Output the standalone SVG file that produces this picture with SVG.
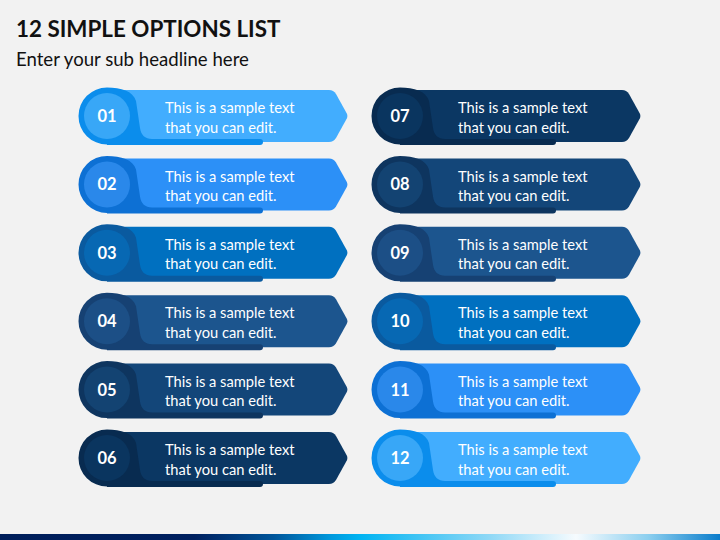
<svg xmlns="http://www.w3.org/2000/svg" xmlns:xlink="http://www.w3.org/1999/xlink" width="720" height="540" viewBox="0 0 720 540">
<style>
.title{font-family:Lato,"Liberation Sans",sans-serif;font-weight:bold;font-size:22.4px;fill:#111}
.sub{font-family:Lato,"Liberation Sans",sans-serif;font-size:18.6px;fill:#111}
.num{font-family:Lato,"Liberation Sans",sans-serif;font-weight:bold;font-size:16.5px;fill:#fff;text-anchor:middle}
.txt{font-family:Lato,"Liberation Sans",sans-serif;font-size:14.7px;fill:#fff}
.c1 .tab{fill:#42ADFE}.c1 .ring{fill:#0B8DEC}.c1 .in{fill:#38A7F7}
.c2 .tab{fill:#2C90F7}.c2 .ring{fill:#0D70D4}.c2 .in{fill:#2A88EA}
.c3 .tab{fill:#0070C0}.c3 .ring{fill:#0A5A9F}.c3 .in{fill:#0768B3}
.c4 .tab{fill:#1C558E}.c4 .ring{fill:#164173}.c4 .in{fill:#1C4F86}
.c5 .tab{fill:#134679}.c5 .ring{fill:#0E355F}.c5 .in{fill:#134372}
.c6 .tab{fill:#0B3763}.c6 .ring{fill:#082B50}.c6 .in{fill:#0A355F}
</style>
<defs>
<path id="tabShape" d="M10,-26 H222 Q226.5,-26 229,-22 L239.8,-2.5 Q241,0 239.8,2.5 L229,22 Q226.5,26 222,26 H10 Z"/>
<path id="ringShape" d="M0,-28.5 C14,-28.5 26,-25 29,-15 L33,12 C34,19 38,23 45,23 H153 A3,3 0 0 1 153,29 H0 L0,28.5 A28.5,28.5 0 0 1 0,-28.5 Z"/>
<linearGradient id="bar" x1="0" y1="0" x2="1" y2="0">
<stop offset="0" stop-color="#001E5A"/>
<stop offset="0.27" stop-color="#00205F"/>
<stop offset="0.38" stop-color="#00559A"/>
<stop offset="0.46" stop-color="#0099DD"/>
<stop offset="0.5" stop-color="#00B4F2"/>
<stop offset="0.58" stop-color="#40C4F4"/>
<stop offset="0.68" stop-color="#8FD8F6"/>
<stop offset="0.8" stop-color="#F6FBFE"/>
<stop offset="0.9" stop-color="#8CCFEF"/>
<stop offset="1" stop-color="#0A7CCB"/>
</linearGradient>
</defs>
<rect width="720" height="540" fill="#F2F2F2"/>
<text class="title" x="16" y="37">12 SIMPLE OPTIONS LIST</text>
<text class="sub" x="16" y="66">Enter your sub headline here</text>

<g id="item01" class="c1" transform="translate(107,116)">
<use xlink:href="#tabShape" class="tab"/><use xlink:href="#ringShape" class="ring"/><circle r="23" class="in"/>
<text class="num" y="6">01</text>
<text class="txt" x="58" y="-2.8">This is a sample text</text><text class="txt" x="58" y="16.6">that you can edit.</text>
</g>
<g id="item02" class="c2" transform="translate(107,184.4)">
<use xlink:href="#tabShape" class="tab"/><use xlink:href="#ringShape" class="ring"/><circle r="23" class="in"/>
<text class="num" y="6">02</text>
<text class="txt" x="58" y="-2.8">This is a sample text</text><text class="txt" x="58" y="16.6">that you can edit.</text>
</g>
<g id="item03" class="c3" transform="translate(107,252.8)">
<use xlink:href="#tabShape" class="tab"/><use xlink:href="#ringShape" class="ring"/><circle r="23" class="in"/>
<text class="num" y="6">03</text>
<text class="txt" x="58" y="-2.8">This is a sample text</text><text class="txt" x="58" y="16.6">that you can edit.</text>
</g>
<g id="item04" class="c4" transform="translate(107,321.2)">
<use xlink:href="#tabShape" class="tab"/><use xlink:href="#ringShape" class="ring"/><circle r="23" class="in"/>
<text class="num" y="6">04</text>
<text class="txt" x="58" y="-2.8">This is a sample text</text><text class="txt" x="58" y="16.6">that you can edit.</text>
</g>
<g id="item05" class="c5" transform="translate(107,389.6)">
<use xlink:href="#tabShape" class="tab"/><use xlink:href="#ringShape" class="ring"/><circle r="23" class="in"/>
<text class="num" y="6">05</text>
<text class="txt" x="58" y="-2.8">This is a sample text</text><text class="txt" x="58" y="16.6">that you can edit.</text>
</g>
<g id="item06" class="c6" transform="translate(107,458)">
<use xlink:href="#tabShape" class="tab"/><use xlink:href="#ringShape" class="ring"/><circle r="23" class="in"/>
<text class="num" y="6">06</text>
<text class="txt" x="58" y="-2.8">This is a sample text</text><text class="txt" x="58" y="16.6">that you can edit.</text>
</g>

<g id="item07" class="c6" transform="translate(400,116)">
<use xlink:href="#tabShape" class="tab"/><use xlink:href="#ringShape" class="ring"/><circle r="23" class="in"/>
<text class="num" y="6">07</text>
<text class="txt" x="58" y="-2.8">This is a sample text</text><text class="txt" x="58" y="16.6">that you can edit.</text>
</g>
<g id="item08" class="c5" transform="translate(400,184.4)">
<use xlink:href="#tabShape" class="tab"/><use xlink:href="#ringShape" class="ring"/><circle r="23" class="in"/>
<text class="num" y="6">08</text>
<text class="txt" x="58" y="-2.8">This is a sample text</text><text class="txt" x="58" y="16.6">that you can edit.</text>
</g>
<g id="item09" class="c4" transform="translate(400,252.8)">
<use xlink:href="#tabShape" class="tab"/><use xlink:href="#ringShape" class="ring"/><circle r="23" class="in"/>
<text class="num" y="6">09</text>
<text class="txt" x="58" y="-2.8">This is a sample text</text><text class="txt" x="58" y="16.6">that you can edit.</text>
</g>
<g id="item10" class="c3" transform="translate(400,321.2)">
<use xlink:href="#tabShape" class="tab"/><use xlink:href="#ringShape" class="ring"/><circle r="23" class="in"/>
<text class="num" y="6">10</text>
<text class="txt" x="58" y="-2.8">This is a sample text</text><text class="txt" x="58" y="16.6">that you can edit.</text>
</g>
<g id="item11" class="c2" transform="translate(400,389.6)">
<use xlink:href="#tabShape" class="tab"/><use xlink:href="#ringShape" class="ring"/><circle r="23" class="in"/>
<text class="num" y="6">11</text>
<text class="txt" x="58" y="-2.8">This is a sample text</text><text class="txt" x="58" y="16.6">that you can edit.</text>
</g>
<g id="item12" class="c1" transform="translate(400,458)">
<use xlink:href="#tabShape" class="tab"/><use xlink:href="#ringShape" class="ring"/><circle r="23" class="in"/>
<text class="num" y="6">12</text>
<text class="txt" x="58" y="-2.8">This is a sample text</text><text class="txt" x="58" y="16.6">that you can edit.</text>
</g>

<g id="connectors"></g>
<rect x="0" y="534" width="720" height="6" fill="url(#bar)"/>
</svg>
